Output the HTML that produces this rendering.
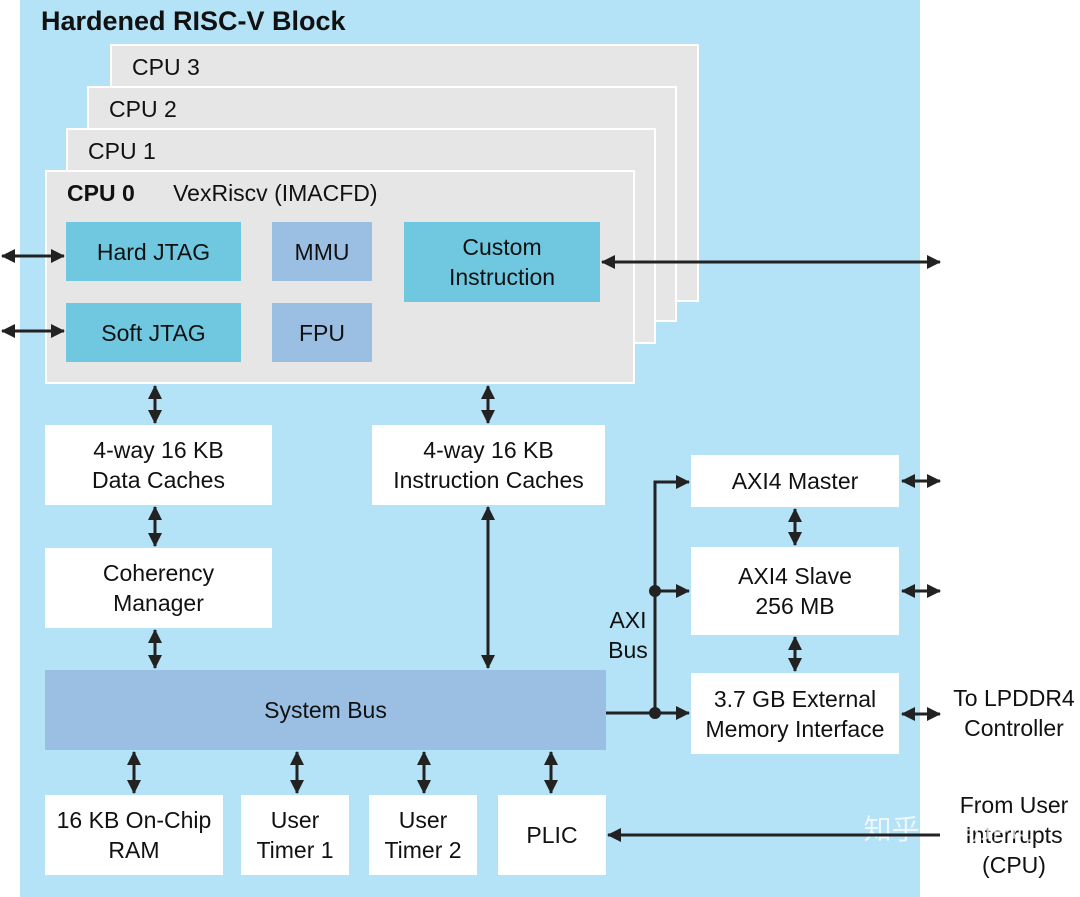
<!DOCTYPE html><html><head><style>
body{margin:0;width:1080px;height:897px;background:#fff;position:relative;overflow:hidden;font-family:"Liberation Sans",Arial,sans-serif;color:#111}
.a{position:absolute;box-sizing:border-box;display:flex;align-items:center;justify-content:center;text-align:center;font-size:23px;line-height:30px}
.cpu{background:#e6e6e6;border:2px solid #fff;display:block;text-align:left;padding:6px 0 0 20px}
.cy{background:#6fc8df}.pb{background:#9bbfe3}.w{background:#fff}
</style></head><body>
<div class="a" style="left:20px;top:0;width:900px;height:897px;background:#b4e2f7"></div>
<div class="a" style="left:41px;top:6px;font-weight:bold;font-size:27px;justify-content:flex-start">Hardened RISC-V Block</div>
<div class="a cpu" style="left:110px;top:44px;width:589px;height:258px">CPU 3</div>
<div class="a cpu" style="left:87px;top:86px;width:590px;height:236px">CPU 2</div>
<div class="a cpu" style="left:66px;top:128px;width:590px;height:216px">CPU 1</div>
<div class="a cpu" style="left:45px;top:170px;width:590px;height:214px"><b>CPU 0</b>&nbsp;&nbsp;&nbsp;&nbsp;&nbsp;&nbsp;VexRiscv (IMACFD)</div>
<div class="a cy" style="left:66px;top:222px;width:175px;height:59px">Hard JTAG</div>
<div class="a pb" style="left:272px;top:222px;width:100px;height:59px">MMU</div>
<div class="a cy" style="left:404px;top:222px;width:196px;height:80px">Custom<br>Instruction</div>
<div class="a cy" style="left:66px;top:303px;width:175px;height:59px">Soft JTAG</div>
<div class="a pb" style="left:272px;top:303px;width:100px;height:59px">FPU</div>
<div class="a w" style="left:45px;top:425px;width:227px;height:80px">4-way 16 KB<br>Data Caches</div>
<div class="a w" style="left:372px;top:425px;width:233px;height:80px">4-way 16 KB<br>Instruction Caches</div>
<div class="a w" style="left:45px;top:548px;width:227px;height:80px">Coherency<br>Manager</div>
<div class="a pb" style="left:45px;top:670px;width:561px;height:80px">System Bus</div>
<div class="a w" style="left:45px;top:795px;width:178px;height:80px">16 KB On-Chip<br>RAM</div>
<div class="a w" style="left:241px;top:795px;width:108px;height:80px">User<br>Timer 1</div>
<div class="a w" style="left:369px;top:795px;width:108px;height:80px">User<br>Timer 2</div>
<div class="a w" style="left:498px;top:795px;width:108px;height:80px">PLIC</div>
<div class="a w" style="left:691px;top:455px;width:208px;height:52px">AXI4 Master</div>
<div class="a w" style="left:691px;top:547px;width:208px;height:88px">AXI4 Slave<br>256 MB</div>
<div class="a w" style="left:691px;top:673px;width:208px;height:81px">3.7 GB External<br>Memory Interface</div>
<div class="a" style="left:596px;top:605px;width:64px;height:60px">AXI<br>Bus</div>
<div class="a" style="left:940px;top:683px;width:148px;height:60px">To LPDDR4<br>Controller</div>
<div class="a" style="left:940px;top:790px;width:148px;height:90px">From User<br>Interrupts<br>(CPU)</div>
<div class="a" style="left:850px;top:808px;width:200px;height:40px;color:rgba(255,255,255,.75);font-family:'Noto Sans CJK SC',sans-serif;font-size:28px">知乎 @鸟路司</div>
<svg style="position:absolute;left:0;top:0" width="1080" height="897">
<defs><marker id="m" markerWidth="14" markerHeight="14" refX="13" refY="7" orient="auto-start-reverse" markerUnits="userSpaceOnUse"><path d="M0,0L14,7L0,14z" fill="#222"/></marker></defs>
<g stroke="#222" stroke-width="3" fill="none">
<line x1="2" y1="256" x2="64" y2="256" marker-start="url(#m)" marker-end="url(#m)"/>
<line x1="2" y1="331" x2="64" y2="331" marker-start="url(#m)" marker-end="url(#m)"/>
<line x1="602" y1="262" x2="940" y2="262" marker-start="url(#m)" marker-end="url(#m)"/>
<line x1="155" y1="386" x2="155" y2="423" marker-start="url(#m)" marker-end="url(#m)"/>
<line x1="155" y1="507" x2="155" y2="546" marker-start="url(#m)" marker-end="url(#m)"/>
<line x1="155" y1="630" x2="155" y2="668" marker-start="url(#m)" marker-end="url(#m)"/>
<line x1="488" y1="386" x2="488" y2="423" marker-start="url(#m)" marker-end="url(#m)"/>
<line x1="488" y1="507" x2="488" y2="668" marker-start="url(#m)" marker-end="url(#m)"/>
<line x1="134" y1="752" x2="134" y2="793" marker-start="url(#m)" marker-end="url(#m)"/>
<line x1="297" y1="752" x2="297" y2="793" marker-start="url(#m)" marker-end="url(#m)"/>
<line x1="424" y1="752" x2="424" y2="793" marker-start="url(#m)" marker-end="url(#m)"/>
<line x1="551" y1="752" x2="551" y2="793" marker-start="url(#m)" marker-end="url(#m)"/>
<line x1="795" y1="509" x2="795" y2="545" marker-start="url(#m)" marker-end="url(#m)"/>
<line x1="795" y1="637" x2="795" y2="671" marker-start="url(#m)" marker-end="url(#m)"/>
<line x1="902" y1="481" x2="940" y2="481" marker-start="url(#m)" marker-end="url(#m)"/>
<line x1="902" y1="591" x2="940" y2="591" marker-start="url(#m)" marker-end="url(#m)"/>
<line x1="902" y1="714" x2="940" y2="714" marker-start="url(#m)" marker-end="url(#m)"/>
<line x1="940" y1="835" x2="608" y2="835" marker-end="url(#m)"/>
<line x1="606" y1="713" x2="689" y2="713" marker-end="url(#m)"/>
<polyline points="655,713 655,482 689,482" marker-end="url(#m)"/>
<line x1="655" y1="591" x2="689" y2="591" marker-end="url(#m)"/>
</g>
<circle cx="655" cy="591" r="6" fill="#222"/><circle cx="655" cy="713" r="6" fill="#222"/>
</svg>
</body></html>
